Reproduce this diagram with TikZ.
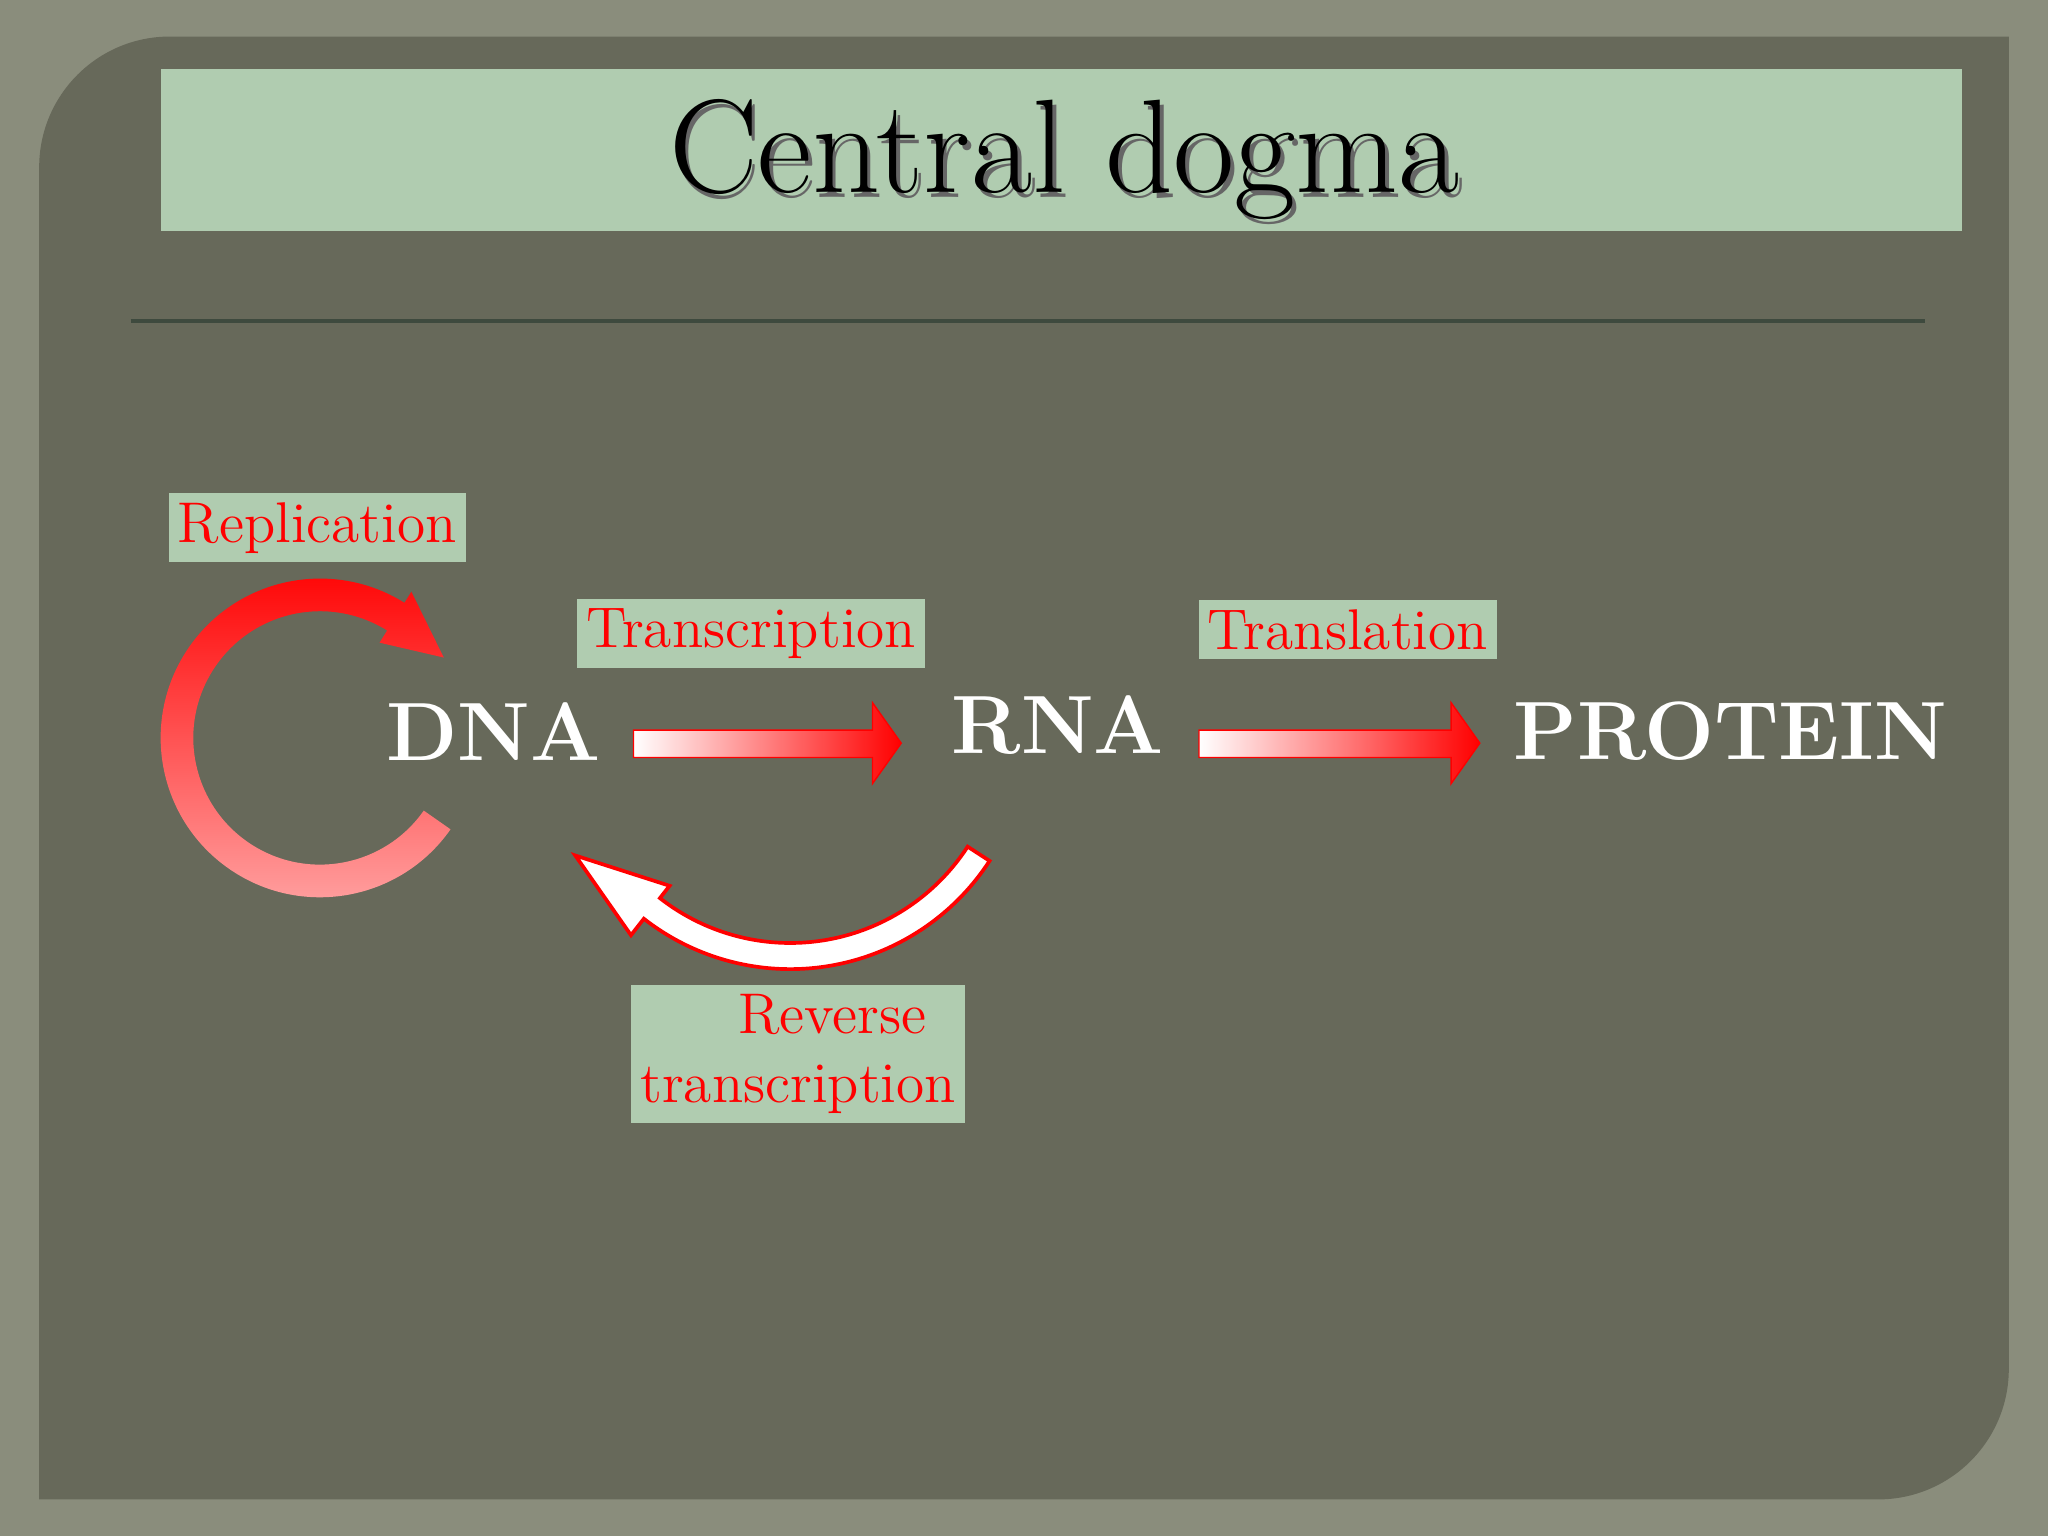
\documentclass[tikz,border=0pt]{standalone}
\usepackage{tikz}
\usetikzlibrary{calc}
\definecolor{outerbg}{HTML}{8A8D7C}
\definecolor{panel}{HTML}{67695A}
\definecolor{titlebox}{HTML}{B0CCB0}
\definecolor{rule}{HTML}{3E4A3E}
\tikzset{
  lbl/.style={fill=titlebox, text=red, font=\fontsize{12.5}{15}\selectfont, inner sep=2pt},
  mol/.style={text=white, font=\fontsize{18}{20}\selectfont\bfseries},
  blockarrow/.style={shade, left color=white, right color=red, draw=red, line width=0.3pt}
}
\begin{document}
\begin{tikzpicture}[x=0.01cm, y=0.01cm]
  \useasboundingbox (0,0) rectangle (1568,1176);
  % background
  \fill[outerbg] (0,0) rectangle (1568,1176);
  \fill[panel] (130,1148) -- (1538,1148) -- (1538,128) arc (0:-90:100) -- (30,28) -- (30,1048) arc (180:90:100) -- cycle;
  % title
  \fill[titlebox] (123,999) rectangle (1502,1123);
  \node[text=black!60, font=\fontsize{29}{33}\selectfont] at (818,1050) {Central dogma};
  \node (title) [text=black, font=\fontsize{29}{33}\selectfont] at (815,1054) {Central dogma};
  \draw[rule, line width=0.8pt] (100,930) -- (1474,930);
  % molecules
  \node (dna) [mol] at (378,616) {DNA};
  \node (rna) [mol] at (810,621) {RNA};
  \node (prot) [mol] at (1325,616) {PROTEIN};
  % labels
  \node (rep) [lbl] at (243,772) {Replication};
  \node (tsc) [lbl] at (575,691) {Transcription};
  \node (tsl) [lbl] at (1032,694) {Translation};
  \node (rev) [lbl, align=center] at (611,369) {\hspace*{1.2em}Reverse\\transcription};
  % straight block arrows
  \fill[blockarrow] (485,617) -- (668,617) -- (668,638) -- (690,607) -- (668,576) -- (668,596) -- (485,596) -- cycle;
  \fill[blockarrow] (918,617) -- (1111,617) -- (1111,638) -- (1133,607) -- (1111,576) -- (1111,596) -- (918,596) -- cycle;
  % replication arrow
  \shade[top color=red, bottom color=red!35!white]
    (245,611) ++(-35:122) arc (-35:-302:122)
    -- ($(245,611)+(58:132)$) -- ($(245,611)+(33:113)$) -- ($(245,611)+(58:86)$)
    -- ($(245,611)+(58:97)$) arc (-302:-35:97) -- cycle;
  % reverse transcription arrow
  \filldraw[fill=white, draw=red, line width=0.8pt]
    (605,616) ++(-33:182) arc (-33:-128:182)
    -- ($(605,616)+(-128:198)$) -- ($(605,616)+(-150:190)$) -- ($(605,616)+(-128:150)$)
    -- ($(605,616)+(-128:162)$) arc (-128:-33:162) -- cycle;
\end{tikzpicture}
\end{document}
